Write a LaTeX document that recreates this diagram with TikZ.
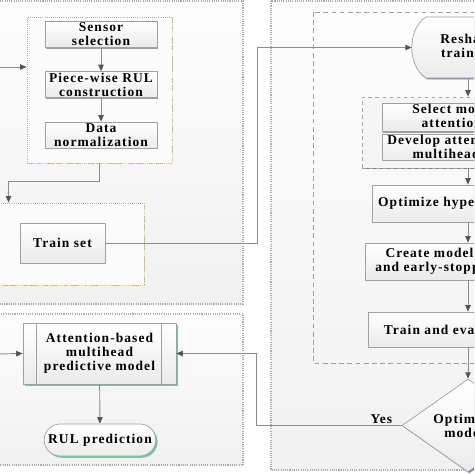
\documentclass[tikz,border=0pt]{standalone}
\usepackage{fontspec}
\setmainfont{Liberation Serif}
\newfontfamily\boxfont[LetterSpace=8]{Liberation Serif}
\usepackage{tikz}
\usetikzlibrary{positioning,shapes.geometric,shapes.misc,arrows.meta,shadows,calc}

\newdimen\px \px=0.03cm

\definecolor{lineGray}{RGB}{140,140,140}
\definecolor{tipGray}{RGB}{85,85,85}
\definecolor{boxEdge}{RGB}{160,160,160}
\definecolor{panelEdge}{RGB}{172,172,172}
\definecolor{goldDot}{RGB}{232,205,110}
\definecolor{mintShade}{RGB}{120,196,160}
\definecolor{slateShade}{RGB}{120,130,150}

\tikzset{
  panel/.style={draw=panelEdge, densely dotted, line width=0.9pt, top color=gray!2, bottom color=gray!11},
  innerdash/.style={draw=gray!75, dash pattern=on 4pt off 3pt, line width=0.7pt},
  prepbox/.style={draw=panelEdge, densely dotted, line width=0.8pt, fill=gray!3},
  golddot/.style={draw=goldDot, densely dotted, line width=1pt},
  flowbase/.style={draw=boxEdge, line width=0.6pt, top color=white, bottom color=gray!16,
    align=center, inner sep=1pt, font=\fontsize{11.5}{12}\boxfont\bfseries},
  grayshadow/.style={drop shadow={shadow xshift=1.1pt, shadow yshift=-1.1pt, fill=gray!75, opacity=1}},
  slateshadow/.style={drop shadow={shadow xshift=1.1pt, shadow yshift=-1.1pt, fill=slateShade, opacity=1}},
  greenshadow/.style={drop shadow={shadow xshift=1.5pt, shadow yshift=-1.5pt, fill=mintShade, opacity=1}},
  flowbox/.style={flowbase, grayshadow},
  groupbox/.style={draw=gray!70, dashed, line width=0.6pt, fill=gray!8, slateshadow},
  arr/.style={draw=lineGray, line width=0.8pt, -{Triangle[length=5.5pt,width=4.6pt,color=tipGray]}},
  labeltext/.style={font=\fontsize{11.5}{12}\boxfont\bfseries, inner sep=1pt}
}

\begin{document}
\begin{tikzpicture}[x=0.03cm, y=-0.03cm]
    \useasboundingbox (0,0) rectangle (474,474);
    \clip (0,0) rectangle (474,474);

    % Draw panels
    \draw[panel] (-20,1) rectangle (243,304);
    \draw[panel] (-20,314) rectangle (243,465);
    \draw[panel] (271,1) rectangle (560,470);
    \draw[innerdash] (313,12) rectangle (560,363);

    % Data preparation
    \node[prepbox, minimum width=145\px, minimum height=146\px] (prep) at (99.5,90) {};
    \draw[golddot] (prep.north east) -- (prep.south east) -- (prep.south west);
    \node[flowbox, minimum width=112\px, minimum height=25\px] (sensor) at (101,34.5) {Sensor\\selection};
    \node[flowbox, minimum width=112\px, minimum height=25\px] (piece) at (101,84.5) {Piece-wise RUL\\construction};
    \node[flowbox, minimum width=112\px, minimum height=26\px] (norm) at (101,135) {Data\\normalization};

    % Train set
    \node[prepbox, minimum width=164\px, minimum height=82\px] (trainwrap) at (62,244) {};
    \draw[golddot] (trainwrap.north east) -- (trainwrap.south east) -- (trainwrap.south west);
    \node[flowbox, minimum width=85\px, minimum height=40\px] (trainset) at (62.5,243) {Train set};

    % Prediction
    \node[flowbase, greenshadow, minimum width=153\px, minimum height=61\px] (attn) at (99.5,353.5) {Attention-based\\multihead\\predictive model};
    \draw[draw=boxEdge, line width=0.6pt] ([shift={(14,0)}]attn.north west) -- ([shift={(14,0)}]attn.south west);
    \draw[draw=boxEdge, line width=0.6pt] ([shift={(-15,0)}]attn.north east) -- ([shift={(-15,0)}]attn.south east);
    \node[flowbase, greenshadow, rounded rectangle, minimum width=114\px, minimum height=32\px] (rul) at (100,440) {RUL prediction};

    % Model building
    \draw[flowbase, slateshadow] (426,17) -- (560,17) -- (560,78) -- (426,78)
        .. controls (407,66) and (407,29) .. (426,17) -- cycle;
    \node[labeltext, align=center, minimum width=112\px, minimum height=61\px] (reshape) at (468,47.5) {Reshape\\training};
    \node[groupbox, minimum width=212\px, minimum height=71\px] (group) at (468,132.5) {};
    \node[flowbox, minimum width=172\px, minimum height=25\px] (select) at (468,117.5) {Select model and\\attention type};
    \node[flowbox, minimum width=172\px, minimum height=26\px] (develop) at (468,147) {Develop attention-based\\multihead model};
    \node[flowbox, minimum width=192\px, minimum height=37\px] (optim) at (468,203.5) {Optimize hyperparameters};
    \node[flowbox, minimum width=206\px, minimum height=37\px] (create) at (468,261.5) {Create model checkpoint\\and early-stopping callback};
    \node[flowbox, minimum width=200\px, minimum height=35\px] (evalm) at (468,329.5) {Train and evaluate model};
    \node[flowbase, slateshadow, diamond, inner sep=0pt, minimum width=132\px, minimum height=61\px] (decide) at (468,425.5) {Optimized\\model?};

    % Draw connectors
    \coordinate (inPrep) at (-5,67);
    \coordinate (inAttn) at (-5,354);
    \draw[arr] (inPrep) -- (inPrep -| prep.west);
    \draw[arr] (sensor) -- (piece);
    \draw[arr] (piece) -- (norm);
    \draw[arr] (prep.south) -- ++(0,18) -| ([shift={(29,0)}]trainwrap.north west);
    \draw[arr] (trainset.east) -- ++(152,0) |- (reshape.west);
    \draw[arr] (reshape) -- (group);
    \draw[arr] (group) -- (optim);
    \draw[arr] (optim) -- (create);
    \draw[arr] (create) -- (evalm);
    \draw[arr] (evalm) -- (decide);
    \draw[arr] (decide.west) -- node[labeltext, above, pos=0.14] {Yes} ++(-145,0) |- (attn.east);
    \draw[arr] (inAttn) -- (attn.west);
    \draw[arr] (attn) -- (rul);
\end{tikzpicture}
\end{document}
